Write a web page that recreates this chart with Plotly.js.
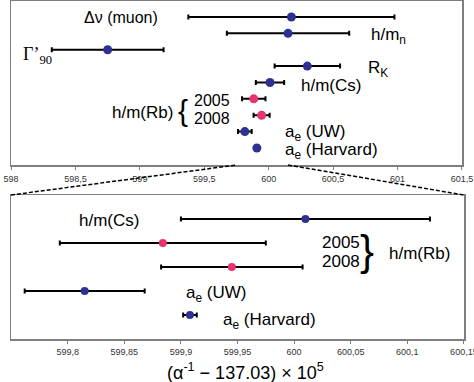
<!DOCTYPE html>
<html><head><meta charset="utf-8">
<script src="https://cdn.plot.ly/plotly-3.0.1.min.js"></script>
<style>html,body{margin:0;padding:0;background:#fff}</style>
</head><body>
<div id="chart" style="width:474px;height:382px"></div>
<script>
// ---- data ----
const topLabels = ['Δν (muon)', 'h/m_n', 'Γ’90', 'R_K', 'h/m(Cs)', 'h/m(Rb) 2005', 'h/m(Rb) 2008', 'a_e (UW)', 'a_e (Harvard)'];
const topValues = [600.176, 600.15, 598.75, 600.30, 600.01, 599.884, 599.945, 599.815, 599.908];
const topErrors = [0.80, 0.475, 0.434, 0.254, 0.11, 0.091, 0.0625, 0.053, 0.006];
const topGroups = ['other', 'other', 'other', 'other', 'other', 'Rb', 'Rb', 'other', 'other'];
const bottomLabels = ['h/m(Cs)', 'h/m(Rb) 2005', 'h/m(Rb) 2008', 'a_e (UW)', 'a_e (Harvard)'];
const bottomValues = [600.01, 599.884, 599.945, 599.815, 599.908];
const bottomErrors = [0.11, 0.091, 0.0625, 0.053, 0.006];
const bottomGroups = ['other', 'Rb', 'Rb', 'other', 'other'];
const topTickVals = [598, 598.5, 599, 599.5, 600, 600.5, 601, 601.5];
const topTickText = ['598', '598,5', '599', '599,5', '600', '600,5', '601', '601,5'];
const bottomTickVals = [599.8, 599.85, 599.9, 599.95, 600, 600.05, 600.1, 600.15];
const bottomTickText = ['599,8', '599,85', '599,9', '599,95', '600', '600,05', '600,1', '600,15'];

// ---- styles / layout ----
const BLUE = '#2e3192', PINK = '#e8336e';
const colorOf = g => g === 'Rb' ? PINK : BLUE;
const W = 474, H = 382, ML = 11, MR = 10, MT = 1, MB = 43;
const PW = W - ML - MR, PH = H - MT - MB;
const P = x => (x - ML) / PW;          // pixel x -> paper
const Q = y => (H - MB - y) / PH;      // pixel y -> paper
const topRange = [597.9995, 601.5005], botRange = [599.7499, 600.1501];
const topDomX = [0, P(462)];
const topDomY = [Q(165), Q(1)];
const botDomY = [0, Q(195)];

const err = (arr) => ({type: 'data', array: arr, visible: true, color: '#000', thickness: 2, width: 2.5});

const traces = [
  {x: topValues, y: topLabels, type: 'scatter', mode: 'markers', xaxis: 'x', yaxis: 'y',
   marker: {size: 9, color: topGroups.map(colorOf)}, error_x: err(topErrors), hoverinfo: 'x'},
  {x: bottomValues, y: bottomLabels, type: 'scatter', mode: 'markers', xaxis: 'x2', yaxis: 'y2',
   marker: {size: 8, color: bottomGroups.map(colorOf)}, error_x: err(bottomErrors), hoverinfo: 'x'}
];

const tickFont = {family: 'Liberation Sans, Arial, sans-serif', size: 9, color: '#333'};
const frame = {showline: true, mirror: true, linecolor: '#7f7f7f', linewidth: 1.5, showgrid: false, zeroline: false};

const lab = {family: 'Liberation Sans, Arial, sans-serif', size: 17, color: '#000'};
const serif = {family: 'Liberation Serif, Times New Roman, serif', size: 18, color: '#000'};
function A(text, xpx, ypx, opts) {
  return Object.assign({text: text, xref: 'paper', yref: 'paper', x: P(xpx), y: Q(ypx),
    xanchor: 'left', yanchor: 'middle', showarrow: false, font: lab}, opts || {});
}
const annotations = [
  A('Δν (muon)', 82, 17, {font: Object.assign({}, lab, {size: 16})}),
  A('h/m<sub>n</sub>', 369, 36),
  A('Γ’<sub>90</sub>', 21, 55, {font: serif}),
  A('R<sub>K</sub>', 366, 69),
  A('h/m(Cs)', 299, 85),
  A('h/m(Rb)', 110, 112),
  A('{', 183, 110, {xanchor: 'center', font: Object.assign({}, lab, {size: 30})}),
  A('2005', 192, 101, {font: Object.assign({}, lab, {size: 16})}),
  A('2008', 192, 118, {font: Object.assign({}, lab, {size: 16})}),
  A('a<sub>e</sub> (UW)', 283, 133),
  A('a<sub>e</sub> (Harvard)', 283, 151),
  A('h/m(Cs)', 77, 220),
  A('2005', 320, 242),
  A('2008', 320, 261),
  A('}', 367, 250, {xanchor: 'center', font: Object.assign({}, lab, {size: 42})}),
  A('h/m(Rb)', 387, 254),
  A('a<sub>e</sub> (UW)', 184, 294),
  A('a<sub>e</sub> (Harvard)', 221, 321),
  A('(α<sup>-1</sup> − 137.03) × 10<sup>5</sup>', 245, 371, {xanchor: 'center', font: Object.assign({}, lab, {size: 18})})
];

// dashed zoom lines: bottom range ends mapped onto top axis
const topPaper = v => topDomX[0] + (topDomX[1] - topDomX[0]) * (v - topRange[0]) / (topRange[1] - topRange[0]);
const dash = {type: 'line', xref: 'paper', yref: 'paper', line: {color: '#000', width: 1.5, dash: '4px,2px'}};
const shapes = [
  Object.assign({x0: 0, y0: botDomY[1], x1: topPaper(botRange[0]), y1: topDomY[0]}, dash),
  Object.assign({x0: topPaper(botRange[1]), y0: topDomY[0], x1: 1, y1: botDomY[1]}, dash)
];

const layout = {
  width: W, height: H, margin: {l: ML, r: MR, t: MT, b: MB},
  paper_bgcolor: '#fff', plot_bgcolor: '#fff', showlegend: false,
  xaxis: Object.assign({domain: topDomX, range: topRange, tickvals: topTickVals, ticktext: topTickText,
    ticks: 'outside', ticklen: 3, tickcolor: '#7f7f7f', tickfont: tickFont, anchor: 'y', ticklabelstandoff: 2,
    ticklabeloverflow: 'allow'}, frame),
  yaxis: Object.assign({domain: topDomY, type: 'category', categoryorder: 'array', categoryarray: topLabels,
    range: [9.04, -0.977], showticklabels: false, ticks: '', anchor: 'x'}, frame),
  xaxis2: Object.assign({domain: [0, 1], range: botRange, tickvals: bottomTickVals, ticktext: bottomTickText,
    ticks: 'outside', ticklen: 3, tickcolor: '#7f7f7f', tickfont: tickFont, anchor: 'y2', ticklabelstandoff: 1,
    ticklabeloverflow: 'allow'}, frame),
  yaxis2: Object.assign({domain: botDomY, type: 'category', categoryorder: 'array', categoryarray: bottomLabels,
    range: [5, -1], showticklabels: false, ticks: '', anchor: 'x2'}, frame),
  annotations: annotations,
  shapes: shapes
};

Plotly.newPlot('chart', traces, layout, {staticPlot: true, displayModeBar: false});
</script>
</body></html>
